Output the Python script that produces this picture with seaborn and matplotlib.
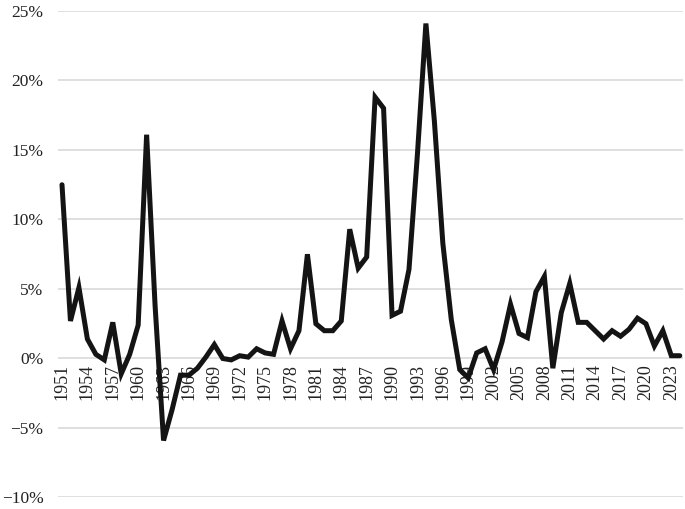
import numpy as np
import pandas as pd
import seaborn as sns
from matplotlib import pyplot as plt
from matplotlib.ticker import FuncFormatter

# Dados: variação anual (%)
years = list(range(1951, 2025))
values = [12.5, 2.7, 5.1, 1.4, 0.3, -0.1, 2.6, -1.1, 0.3, 2.4,
          16.1, 3.8, -5.9, -3.7, -1.2, -1.2, -0.7, 0.1, 1.0, 0.0,
          -0.1, 0.2, 0.1, 0.7, 0.4, 0.3, 2.7, 0.7, 2.0, 7.5,
          2.5, 2.0, 2.0, 2.7, 9.3, 6.5, 7.3, 18.8, 18.0, 3.1,
          3.4, 6.4, 14.7, 24.1, 17.1, 8.3, 2.8, -0.8, -1.4, 0.4,
          0.7, -0.8, 1.2, 3.9, 1.8, 1.5, 4.8, 5.9, -0.7, 3.3,
          5.4, 2.6, 2.6, 2.0, 1.4, 2.0, 1.6, 2.1, 2.9, 2.5,
          0.9, 2.0, 0.2, 0.2]
xticks = list(range(1951, 2025, 3))
yticks = [-10, -5, 0, 5, 10, 15, 20, 25]

df = pd.DataFrame({'year': years, 'value': values})

sns.set_style('white')
plt.rcParams['font.family'] = 'Liberation Serif'

fig = plt.figure(figsize=(6.85, 5.09), dpi=100)
ax = fig.add_axes([0.0847, 0.0226, 0.912, 0.9558])

ax.grid(axis='y', color='#d9d9d9', linewidth=1.2)
ax.set_axisbelow(True)

sns.lineplot(data=df, x='year', y='value', ax=ax, color='#141414',
             linewidth=3.6, solid_joinstyle='miter')

# eixo x cruzando em zero (antes de mexer nos rótulos)
ax.spines['bottom'].set_position(('data', 0))
for s in ax.spines.values():
    s.set_visible(False)

ax.set_xlim(1950.53, 2024.35)
ax.set_ylim(-10, 25)
ax.set_yticks(yticks)
ax.yaxis.set_major_formatter(FuncFormatter(
    lambda v, p: f'{int(v)}%'.replace('-', '\u2212')))
ax.set_xticks(xticks)
ax.set_xticklabels([str(y) for y in xticks])

ax.tick_params(axis='x', length=0, pad=4, labelsize=13, colors='#222222',
               labelrotation=90)
ax.tick_params(axis='y', length=0, pad=10.5, labelsize=12.5, colors='#222222')
ax.set_xlabel('')
ax.set_ylabel('')

plt.savefig('out.png', dpi=100)
